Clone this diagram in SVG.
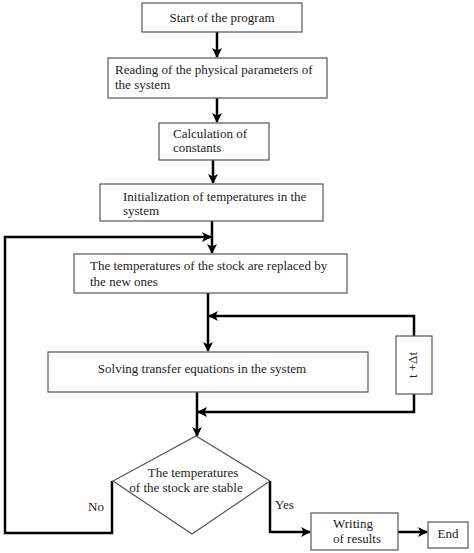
<svg xmlns="http://www.w3.org/2000/svg" width="474" height="553" viewBox="0 0 474 553">
<defs>
<style>
.box{fill:#fff;stroke:#555;stroke-width:1.2}
.t{font-family:"Liberation Serif","Times New Roman",serif;font-size:13px;fill:#222}
.c{text-anchor:middle}
.ln{fill:none;stroke:#000;stroke-width:2.5}
</style>
<marker id="ah" viewBox="0 0 10 10" refX="9" refY="5" markerWidth="4" markerHeight="4" orient="auto" markerUnits="strokeWidth">
<path d="M0,0 L10,5 L0,10 L2.5,5 z" fill="#000"/>
</marker>
</defs>
<rect width="474" height="553" fill="#fff"/>
<g id="connectors">
<path class="ln" d="M217,32 V57" marker-end="url(#ah)"/>
<path class="ln" d="M217,98 V122" marker-end="url(#ah)"/>
<path class="ln" d="M213,160 V183" marker-end="url(#ah)"/>
<path class="ln" d="M212,221 V253" marker-end="url(#ah)"/>
<path class="ln" d="M112,481 V533 H5 V237 H211" marker-end="url(#ah)"/>
<path class="ln" d="M208,293 V351" marker-end="url(#ah)"/>
<path class="ln" d="M414,336 V316 H209" marker-end="url(#ah)"/>
<path class="ln" d="M414,394 V412 H198" marker-end="url(#ah)"/>
<path class="ln" d="M197,392 V436" marker-end="url(#ah)"/>
<path class="ln" d="M270,481 V532 H310" marker-end="url(#ah)"/>
<path class="ln" d="M398,532 H427" marker-end="url(#ah)"/>
</g>
<g id="start"><rect class="box" x="142" y="3" width="160" height="29"/><text class="t c" x="222" y="22">Start of the program</text></g>
<g id="reading"><rect class="box" x="108" y="58" width="219" height="40"/><text class="t" x="115" y="74">Reading of the physical parameters of</text><text class="t" x="115" y="89">the system</text></g>
<g id="calc"><rect class="box" x="159" y="123" width="110" height="37"/><text class="t" x="173" y="138">Calculation of</text><text class="t" x="173" y="152">constants</text></g>
<g id="init"><rect class="box" x="100" y="184" width="223" height="37"/><text class="t" x="123" y="201">Initialization of temperatures in the</text><text class="t" x="123" y="215">system</text></g>
<g id="replace"><rect class="box" x="74" y="254" width="273" height="39"/><text class="t" x="90" y="270">The temperatures of the stock are replaced by</text><text class="t" x="90" y="286">the new ones</text></g>
<g id="solve"><rect class="box" x="48" y="352" width="320" height="40"/><text class="t c" x="202" y="373">Solving transfer equations in the system</text></g>
<g id="dt"><rect class="box" x="396" y="336" width="36" height="58"/><text class="t c" transform="translate(417,365) rotate(-90)">t +Δt</text></g>
<g id="stable"><polygon class="box" points="196,436 270,481 192,534 113,481"/><text class="t c" x="193" y="477">The temperatures</text><text class="t c" x="186" y="492">of the stock are stable</text></g>
<g id="labels"><text class="t" x="88" y="511">No</text><text class="t" x="275" y="509">Yes</text></g>
<g id="writing"><rect class="box" x="311" y="513" width="87" height="37"/><text class="t c" x="353" y="528">Writing</text><text class="t c" x="357" y="543">of results</text></g>
<g id="end"><rect class="box" x="428" y="522" width="40" height="26"/><text class="t c" x="448" y="538">End</text></g>
</svg>
